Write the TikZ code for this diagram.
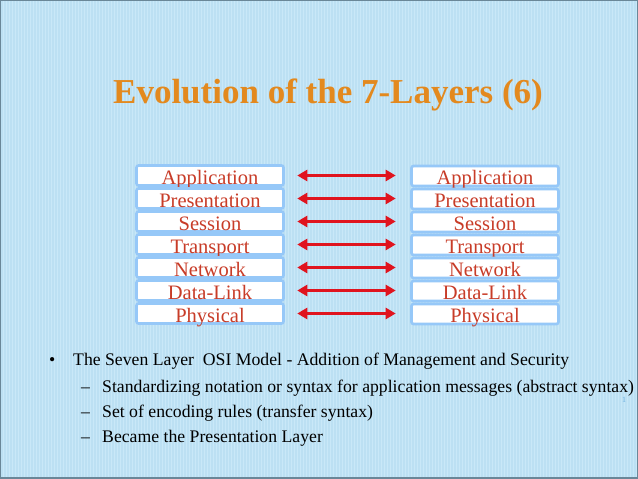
\documentclass[tikz,border=0pt]{standalone}
\usepackage{fontspec}
\setmainfont{Liberation Serif}
\usetikzlibrary{arrows.meta}
\definecolor{bgblue}{HTML}{BCE0F3}
\definecolor{stripe}{HTML}{C9E8F8}
\definecolor{frame}{HTML}{6A8798}
\definecolor{titleorange}{HTML}{E3891E}
\definecolor{layertext}{HTML}{C83C28}
\definecolor{boxborder}{HTML}{96C8F8}
\definecolor{arrowred}{HTML}{E0141E}
\definecolor{slidenum}{HTML}{6CB0E0}
\tikzset{
  layerbox/.style={draw=boxborder, line width=2.6pt, fill=white, rounded corners=2pt,
    minimum width=147pt, minimum height=20pt, inner sep=0pt,
    text height=17pt, text depth=0pt, text=layertext,
    font=\fontsize{20.5}{22}\selectfont},
  linkarrow/.style={draw=arrowred, line width=3.4pt,
    {Triangle[length=10pt,width=11pt]}-{Triangle[length=10pt,width=11pt]},
    shorten <=12.5pt, shorten >=14.5pt},
  bodytext/.style={anchor=base west, inner sep=0pt, text=black,
    font=\fontsize{17.7}{20}\selectfont},
  subtext/.style={bodytext, font=\fontsize{17.7}{20}\selectfont},
}
\begin{document}
\begin{tikzpicture}[x=1pt,y=-1pt]
\useasboundingbox (0,0) rectangle (638,479);
\fill[bgblue] (0,0) rectangle (638,479);
\foreach \i in {0,3,...,636} {
  \fill[stripe] (\i,0) rectangle (\i+1.2,479);
}
\draw[frame, line width=2pt] (0,0) rectangle (638,479);
\draw[frame, line width=3pt] (0,478) -- (638,478);

\node[anchor=base, inner sep=0pt, text=titleorange,
  font=\fontsize{35}{38}\selectfont\bfseries] (title) at (328,103)
  {Evolution of the 7-Layers (6)};

\foreach \n/\t [count=\k from 0] in {1/Application,2/Presentation,3/Session,4/Transport,5/Network,6/Data-Link,7/Physical} {
  \node[layerbox] (L\n) at (210,175.5+23*\k) {\t};
  \node[layerbox] (R\n) at (485,176+23*\k) {\t};
  \draw[linkarrow] (L\n.east) -- (R\n.west |- L\n.east);
}

\node[bodytext] (b0) at (49,365) {\textbullet};
\node[bodytext] (b1) at (73,365) {The Seven Layer\ \ OSI Model - Addition of Management and Security};
\node[subtext] (d2) at (81,392) {–};
\node[subtext] (b2) at (102,392) {Standardizing notation or syntax for application messages (abstract syntax)};
\node[subtext] (d3) at (81,417) {–};
\node[subtext] (b3) at (102,417) {Set of encoding rules (transfer syntax)};
\node[subtext] (d4) at (81,442) {–};
\node[subtext] (b4) at (102,442) {Became the Presentation Layer};

\node[inner sep=0pt, text=slidenum, font=\fontsize{8}{9}\selectfont] (num) at (624,400) {1};
\end{tikzpicture}
\end{document}
